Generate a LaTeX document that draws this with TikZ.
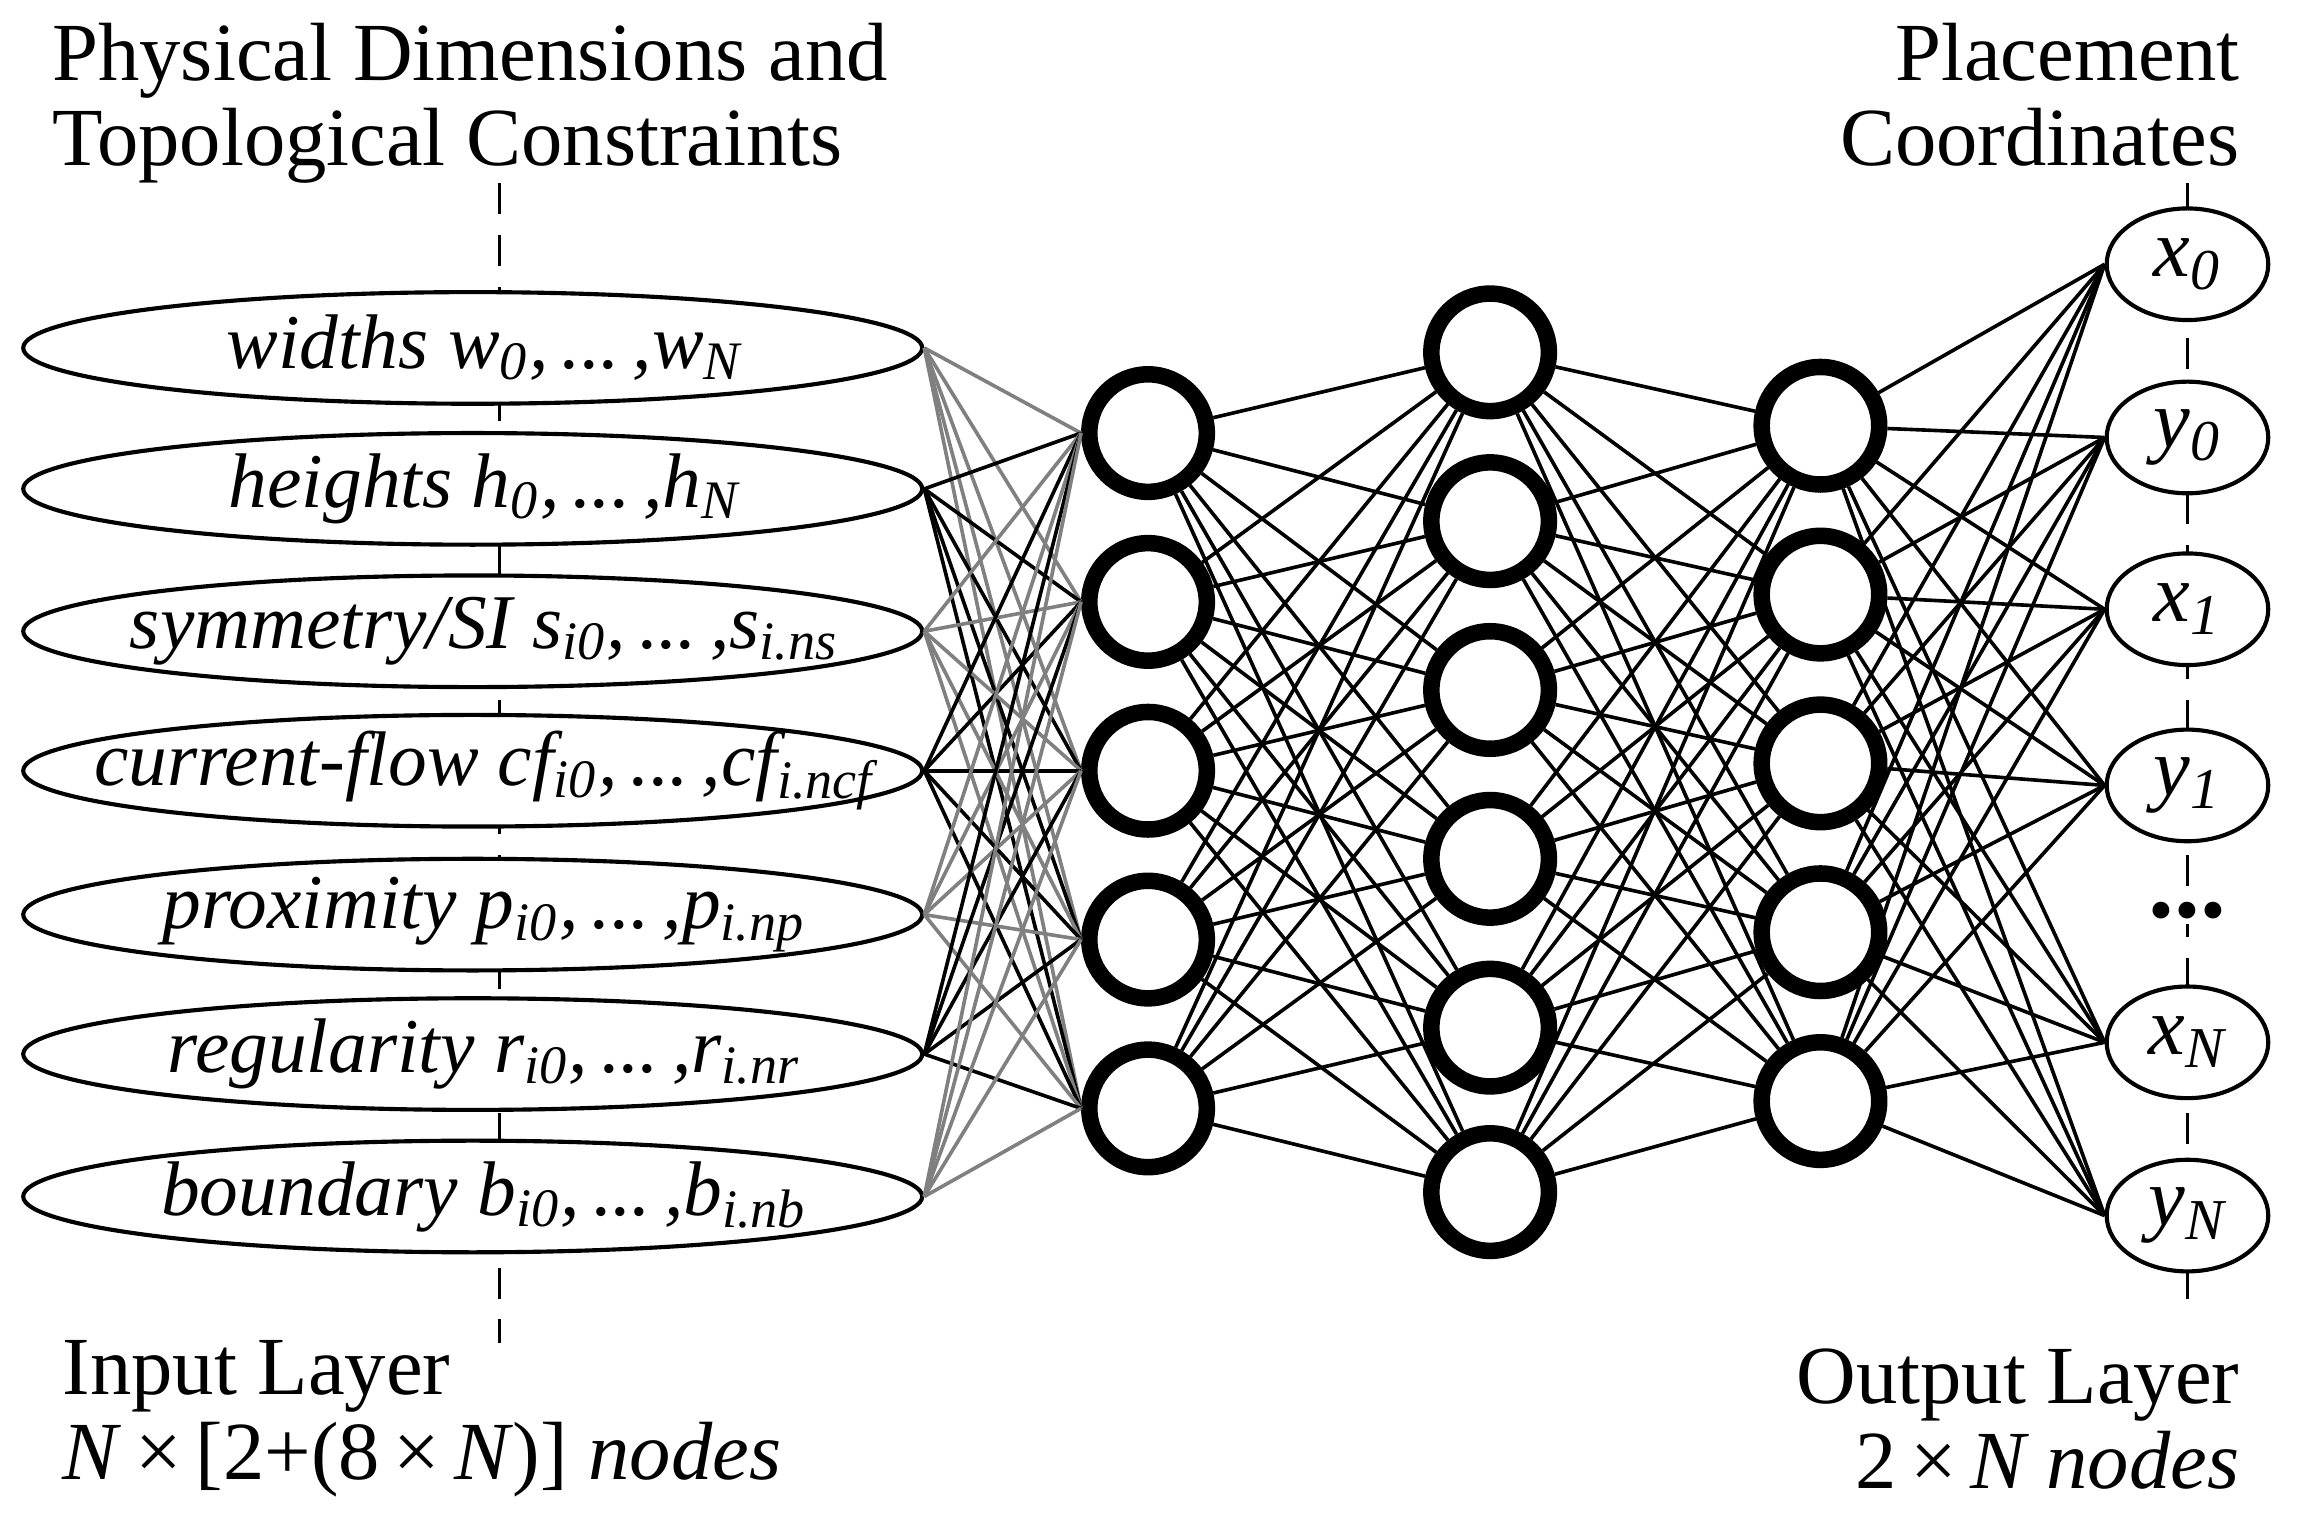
\documentclass[tikz,border=0pt]{standalone}
\usepackage{fontspec}
\setmainfont{Liberation Serif}
\usetikzlibrary{shapes.geometric}
\begin{document}
\begin{tikzpicture}[x=0.01cm,y=-0.01cm,
 inp/.style={ellipse,draw,line width=0.8pt,minimum width=6.12cm,minimum height=0.76cm,inner sep=0pt,fill=white},
 il/.style={font=\fontsize{15}{18}\selectfont\itshape,inner sep=0pt},
 outp/.style={ellipse,draw,line width=0.8pt,minimum width=1.1cm,minimum height=0.76cm,inner sep=0pt,fill=white,font=\fontsize{16}{18}\selectfont\itshape},
 neu/.style={circle,draw,line width=3.2pt,minimum size=0.8cm,inner sep=0pt},
 lab/.style={font=\fontsize{16}{16.5}\selectfont,align=left,inner sep=0pt},
 dsh/.style={line width=0.6pt,dash pattern=on 6pt off 4pt},
 c/.style={line width=0.7pt}, g/.style={line width=0.7pt,gray}]
\useasboundingbox (0,0) rectangle (1568,1034);
\draw[dsh] (340,125) -- (340,915);
\draw[dsh] (1490,125) -- (1490,890);
\node[lab,anchor=north west] at (35,15) {Physical Dimensions and\\Topological Constraints};
\node[lab,anchor=north east,align=right] at (1526,15) {Placement\\Coordinates};
\node[lab,anchor=north west] at (42,912) {Input Layer\\\textit{N}\,×\,[2+(8\,×\,\textit{N})] \textit{nodes}};
\node[lab,anchor=north east,align=right] at (1526,918) {Output Layer\\2\,×\,\textit{N nodes}};
\def\sb#1{\textsubscript{#1}}
\foreach \n/\y/\t in {1/237/{widths w\sb{0},\,...\,,w\sb{N}},
 2/333/{heights h\sb{0},\,...\,,h\sb{N}},
 3/430/{symmetry/SI s\sb{i0},\,...\,,s\sb{i.ns}},
 4/525/{current-flow cf\sb{i0},\,...\,,cf\sb{i.ncf}},
 5/623/{proximity p\sb{i0},\,...\,,p\sb{i.np}},
 6/718/{regularity r\sb{i0},\,...\,,r\sb{i.nr}},
 7/815/{boundary b\sb{i0},\,...\,,b\sb{i.nb}}}
 {\node[inp] (i\n) at (322,\y) {}; \node[il] (t\n) at (330,\y) {\t};}
\foreach \n/\y in {1/295,2/410,3/525,4/640,5/755} \node[neu] (a\n) at (782,\y) {};
\foreach \n/\y in {1/240,2/355,3/470,4/585,5/700,6/812} \node[neu] (b\n) at (1015,\y) {};
\foreach \n/\y in {1/290,2/405,3/520,4/635,5/750} \node[neu] (d\n) at (1240,\y) {};
\node[outp] (o1) at (1490,180) {x\sb{0}};
\node[outp] (o2) at (1490,298) {y\sb{0}};
\node[outp] (o3) at (1490,415) {x\sb{1}};
\node[outp] (o4) at (1490,535) {y\sb{1}};
\node[font=\fontsize{20}{20}\selectfont\bfseries,fill=white,inner sep=1pt] at (1490,620) {...};
\node[outp] (o5) at (1490,710) {x\sb{N}};
\node[outp] (o6) at (1490,828) {y\sb{N}};
\foreach \i/\s in {1/g,2/c,3/g,4/c,5/g,6/c,7/g}
 \foreach \j in {1,...,5} \draw[\s] (i\i.east) -- (a\j.west);
\foreach \i in {1,...,5} \foreach \j in {1,...,6} \draw[c] (a\i) -- (b\j);
\foreach \i in {1,...,6} \foreach \j in {1,...,5} \draw[c] (b\i) -- (d\j);
\foreach \i in {1,...,5} \foreach \j in {1,...,6} \draw[c] (d\i) -- (o\j.west);
\end{tikzpicture}
\end{document}
